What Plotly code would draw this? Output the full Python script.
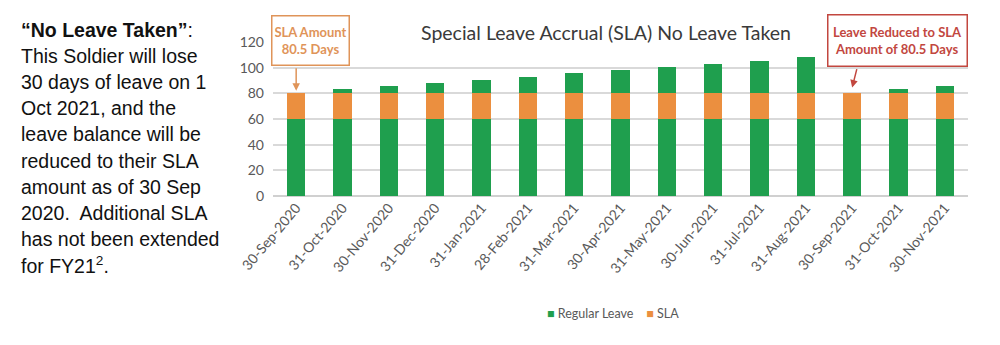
import plotly.graph_objects as go

# ---------------- data ----------------
dates = ["30-Sep-2020", "31-Oct-2020", "30-Nov-2020", "31-Dec-2020", "31-Jan-2021",
         "28-Feb-2021", "31-Mar-2021", "30-Apr-2021", "31-May-2021", "30-Jun-2021",
         "31-Jul-2021", "31-Aug-2021", "30-Sep-2021", "31-Oct-2021", "30-Nov-2021"]
regular_leave_base = [60, 60, 60, 60, 60, 60, 60, 60, 60, 60, 60, 60, 60, 60, 60]
sla_days = [20.5, 20.5, 20.5, 20.5, 20.5, 20.5, 20.5, 20.5, 20.5, 20.5, 20.5, 20.5, 20.5, 20.5, 20.5]
regular_leave_accrued = [0, 2.5, 5, 7.5, 10, 12.5, 15, 17.5, 20, 22.5, 25, 27.5, 0, 2.5, 5]
y_ticks = [0, 20, 40, 60, 80, 100, 120]
series_names = ["Regular Leave", "SLA"]

side_lines = [
    "<b>\u201cNo Leave Taken\u201d</b>:",
    "This Soldier will lose",
    "30 days of leave on 1",
    "Oct 2021, and the",
    "leave balance will be",
    "reduced to their SLA",
    "amount as of 30 Sep",
    "2020.  Additional SLA",
    "has not been extended",
    "for FY21<sup>2</sup>.",
]

GREEN = "#1f9f4e"
ORANGE = "#eb8f3f"
BOX_ORANGE = "#df9459"
RED = "#c2473f"
FONT = "Lato"

W, H = 1000, 345
ML, MR, MT, MB = 273, 32, 42, 149
PW, PH = W - ML - MR, H - MT - MB

def px_x(x):
    return (x - ML) / PW

def px_y(y):
    return (H - MB - y) / PH

fig = go.Figure()
fig.add_trace(go.Bar(x=dates, y=regular_leave_base, name=series_names[0],
                     marker=dict(color=GREEN, line=dict(width=0))))
fig.add_trace(go.Bar(x=dates, y=sla_days, name=series_names[1],
                     marker=dict(color=ORANGE, line=dict(width=0))))
fig.add_trace(go.Bar(x=dates, y=regular_leave_accrued, name=series_names[0],
                     marker=dict(color=GREEN, line=dict(width=0))))

annotations = []
# left explanatory text
for i, line in enumerate(side_lines):
    annotations.append(dict(
        text=line, xref="paper", yref="paper", x=px_x(19), y=px_y(30 + i * 26.1),
        xanchor="left", yanchor="middle", showarrow=False, align="left",
        font=dict(family="Liberation Sans, Arial", size=19.5, color="#111111")))

# SLA amount box
annotations.append(dict(
    text="<b>SLA Amount<br>80.5 Days</b>", xref="paper", yref="paper",
    x=px_x(310), y=px_y(40), xanchor="center", yanchor="middle", showarrow=False,
    font=dict(family=FONT, size=13, color=BOX_ORANGE), bordercolor=BOX_ORANGE,
    borderwidth=1.5, borderpad=2, bgcolor="white", width=72, height=44))
annotations.append(dict(
    text="", x=dates[0], y=sla_days[0] + regular_leave_base[0] + 1.5, xref="x", yref="y",
    ax=0, ay=-24, showarrow=True, arrowhead=2, arrowsize=1, arrowwidth=1.5,
    arrowcolor=BOX_ORANGE, standoff=0))

# Leave reduced box
annotations.append(dict(
    text="<b>Leave Reduced to SLA<br>Amount of 80.5 Days</b>", xref="paper", yref="paper",
    x=px_x(897), y=px_y(41), xanchor="center", yanchor="middle", showarrow=False,
    font=dict(family=FONT, size=13, color=RED), bordercolor=RED,
    borderwidth=1.5, borderpad=2, bgcolor="white", width=134, height=46))
annotations.append(dict(
    text="", x=dates[12], y=sla_days[12] + regular_leave_base[12] + 4, xref="x", yref="y",
    ax=5, ay=-20, showarrow=True, arrowhead=2, arrowsize=1, arrowwidth=1.5,
    arrowcolor=RED, standoff=0))

# compact legend like the original
annotations.append(dict(
    text=(f"<span style='color:{GREEN}'>\u25a0</span> {series_names[0]}    "
          f"<span style='color:{ORANGE}'>\u25a0</span> {series_names[1]}"),
    xref="paper", yref="paper", x=px_x(613), y=px_y(313), xanchor="center",
    yanchor="middle", showarrow=False, font=dict(family=FONT, size=12.5, color="#595959")))

fig.update_layout(
    barmode="stack",
    bargap=0.6,
    width=W, height=H,
    margin=dict(l=ML, r=MR, t=MT, b=MB),
    paper_bgcolor="white", plot_bgcolor="white",
    font=dict(family=FONT, color="#595959"),
    title=dict(text="Special Leave Accrual (SLA) No Leave Taken", xref="paper",
               x=px_x(606), xanchor="center", yref="container", y=1 - 33 / H,
               yanchor="middle", font=dict(family=FONT, size=19.5, color="#3a3a3a")),
    xaxis=dict(type="category", tickangle=-50, tickfont=dict(size=14, color="#595959"),
               showgrid=False, showline=False, ticks=""),
    yaxis=dict(range=[0, 120], tickvals=y_ticks, showgrid=True, gridcolor="#d9d9d9",
               gridwidth=2, zeroline=True, zerolinecolor="#d0d0d0", zerolinewidth=2,
               tickfont=dict(size=14, color="#595959"), ticks="", showline=False,
               ticklabelstandoff=8),
    annotations=annotations,
    showlegend=False,
)

fig.write_html("out.html")
